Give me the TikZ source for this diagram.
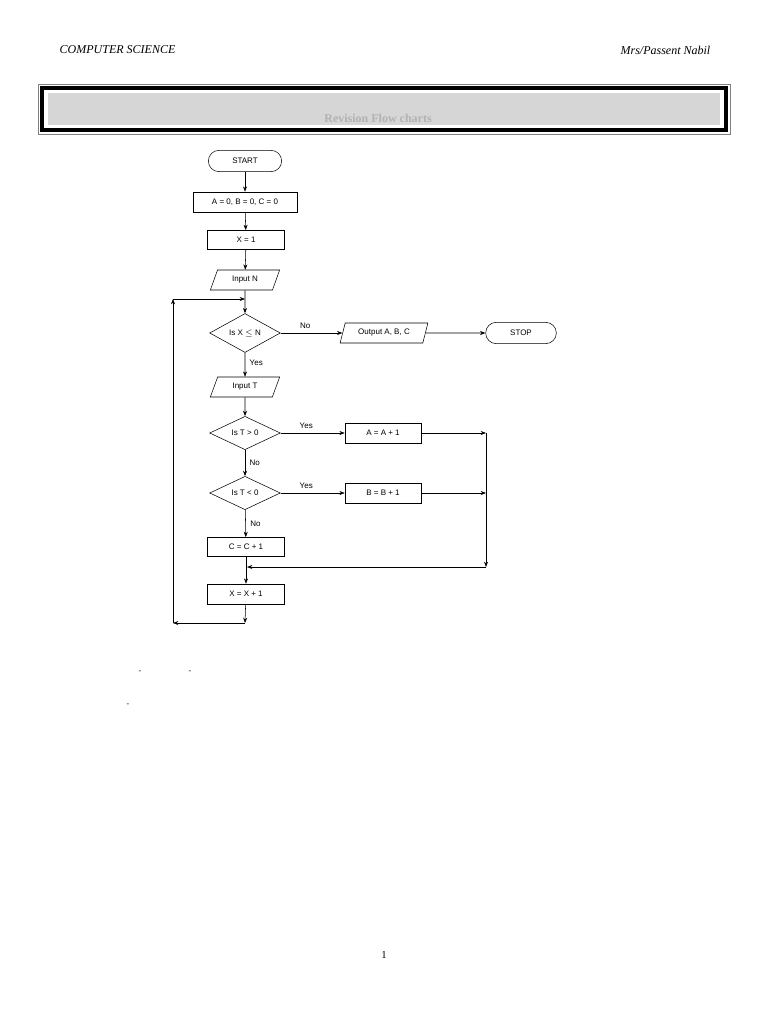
\documentclass[tikz,border=0pt]{standalone}
\usepackage{fontspec}
\setmainfont{Liberation Serif}
\setsansfont{Liberation Sans}
\usetikzlibrary{shapes.geometric,arrows.meta}
\begin{document}
\begin{tikzpicture}[x=0.75pt,y=-0.75pt,thin,font=\sffamily\fontsize{6}{7}\selectfont,
	arr/.style = {-{Stealth[length=4pt,width=3pt]}},
	box node/.style = {rectangle,draw,inner sep=0pt},
	term node/.style = {rectangle,rounded corners=8pt,draw,inner sep=0pt,minimum width=55pt,minimum height=16pt},
	io node/.style = {trapezium,trapezium left angle=65,trapezium right angle=115,draw,inner sep=0pt,minimum height=15pt,trapezium stretches=true},
	test node/.style = {diamond,draw,inner sep=0pt,minimum width=53pt,minimum height=25pt}]
	\useasboundingbox (0,0) rectangle (768,1024);
	% header
	\node[font=\rmfamily\itshape\fontsize{9}{10}\selectfont,anchor=west] (hl) at (55,50) {COMPUTER SCIENCE};
	\node[font=\rmfamily\itshape\fontsize{9}{10}\selectfont,anchor=east] (hr) at (715,50) {Mrs/Passent Nabil};
	\draw[line width=2.5pt] (42,88) rectangle (726,130);
	\draw[gray,line width=0.6pt] (38,84) rectangle (730,134);
	\draw[fill=black!16,draw=white,line width=0.8pt] (47,92) rectangle (721,126);
	\node[font=\rmfamily\bfseries\fontsize{9}{10}\selectfont,text=black!30] (ttl) at (378,118) {Revision Flow charts};
	% flowchart
	\node[term node] (start) at (245,161) {START};
	\node[box node,minimum width=78pt,minimum height=15pt] (init) at (245,202) {A = 0, B = 0, C = 0};
	\node[box node,minimum width=58pt,minimum height=14.5pt] (x1) at (246,240) {X = 1};
	\node[io node,minimum width=52pt] (inN) at (245,280) {Input N};
	\node[test node] (testX) at (245,333) {Is X $\leq$ N};
	\node[io node,minimum width=66pt] (out) at (384,333) {Output A, B, C};
	\node[term node,minimum width=53pt] (stop) at (521,333) {STOP};
	\node[io node,minimum width=52pt] (inT) at (245,387) {Input T};
	\node[test node] (testP) at (245,433) {Is T > 0};
	\node[box node,minimum width=57pt,minimum height=15pt] (incA) at (383,433) {A = A + 1};
	\node[test node] (testN) at (245,493) {Is T < 0};
	\node[box node,minimum width=57pt,minimum height=15pt] (incB) at (383,493) {B = B + 1};
	\node[box node,minimum width=58pt,minimum height=14.5pt] (incC) at (246,547) {C = C + 1};
	\node[box node,minimum width=58pt,minimum height=15pt] (incX) at (246,594) {X = X + 1};
	\coordinate (lj) at (245,299);
	\coordinate (lt) at (173,299);
	\coordinate (ll) at (173,623);
	\coordinate (lb) at (245,623);
	\coordinate (ra) at (486,433);
	\coordinate (rb) at (486,493);
	\coordinate (rc) at (486,567);
	\coordinate (rj) at (247,567);
	
	\path[arr]
	(start) edge (init)
	(init) edge (x1)
	(x1) edge (inN)
	(inN) edge (testX)
	(testX) edge node[pos=0.4,above] {No} (out)
	(out) edge (stop)
	(testX) edge node[right,pos=0.4] {Yes} (inT)
	(inT) edge (testP)
	(testP) edge node[pos=0.4,above] {Yes} (incA)
	(testP) edge node[right] {No} (testN)
	(testN) edge node[pos=0.4,above] {Yes} (incB)
	(testN) edge node[right] {No} (incC)
	(incC) edge (incX)
	(incX) edge (lb)
	(lb) edge (ll)
	(ll) edge (lt)
	(lt) edge (lj)
	(incA) edge (ra)
	(incB) edge (rb)
	(ra) edge (rc)
	(rc) edge (rj);
	% stray marks and page number
	\node (d1) at (140,672) {-};
	\node (d2) at (190,672) {-};
	\node (d3) at (128,705) {-};
	\node[font=\rmfamily\fontsize{8}{9}\selectfont] (pg) at (384,955) {1};
\end{tikzpicture}
\end{document}
